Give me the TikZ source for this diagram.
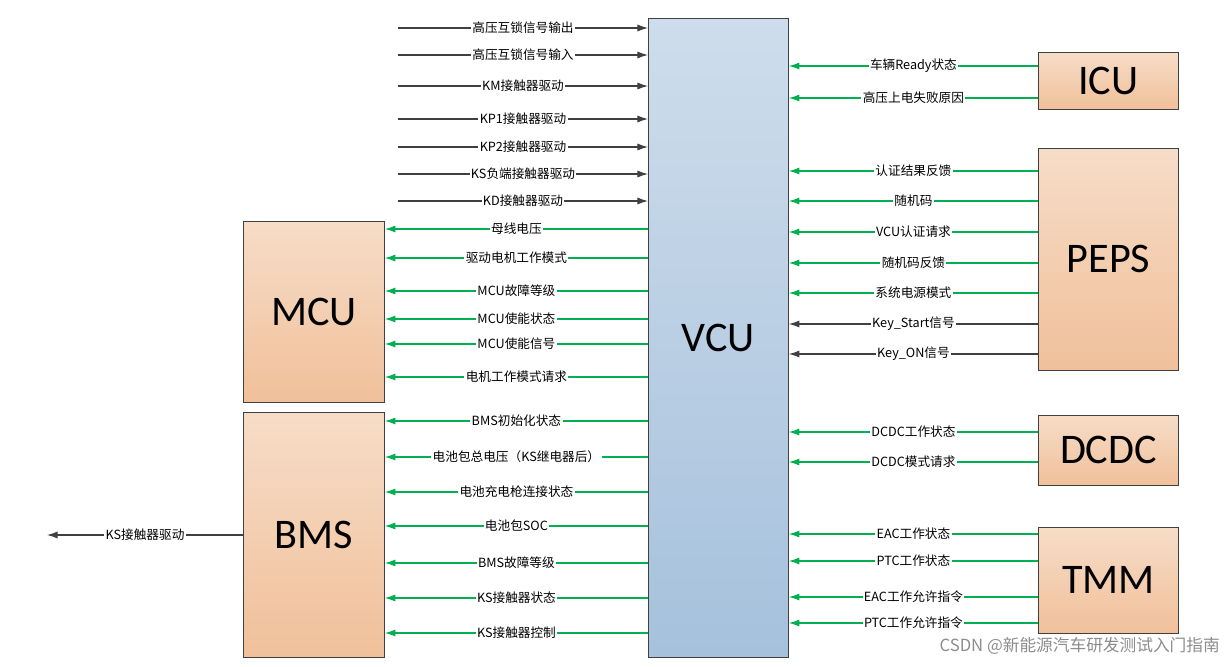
\documentclass[tikz,border=0pt]{standalone}
\usepackage{fontspec}
\setmainfont{Carlito}
\newfontfamily\cjk{Noto Sans CJK SC}
\usetikzlibrary{arrows.meta}
\definecolor{sig}{HTML}{00B050}
\definecolor{hw}{HTML}{404040}
\tikzset{
  unit/.style={draw=black!75, line width=0.5pt, top color=#1!55, bottom color=#1, font=\fontsize{24}{26}\selectfont},
  link/.style={-{Latex[length=6pt,width=4pt]}, line width=0.6pt, sig},
  wire/.style={-{Latex[length=6pt,width=4pt]}, line width=0.6pt, hw},
  lbl/.style={fill=white, inner sep=0.8pt, font=\cjk\fontsize{7.2}{8}\selectfont, text=black}
}
\definecolor{vcuc}{HTML}{A6C1DC}
\definecolor{ecu}{HTML}{F0C09A}
\begin{document}
\begin{tikzpicture}[x=0.02cm, y=-0.02cm]
\useasboundingbox (0,0) rectangle (1229,666);
% control units
\node[unit=vcuc, minimum width=2.8cm, minimum height=12.78cm, anchor=north west] (vcu) at (648,18) {VCU};
\node[unit=ecu, minimum width=2.82cm, minimum height=3.62cm, anchor=north west] (mcu) at (243,221) {MCU};
\node[unit=ecu, minimum width=2.82cm, minimum height=4.9cm, anchor=north west] (bms) at (243,412) {BMS};
\node[unit=ecu, minimum width=2.8cm, minimum height=1.14cm, anchor=north west] (icu) at (1038,52) {ICU};
\node[unit=ecu, minimum width=2.8cm, minimum height=4.44cm, anchor=north west] (peps) at (1038,148) {PEPS};
\node[unit=ecu, minimum width=2.8cm, minimum height=1.4cm, anchor=north west] (dcdc) at (1038,415) {DCDC};
\node[unit=ecu, minimum width=2.8cm, minimum height=2.12cm, anchor=north west] (tmm) at (1038,527) {TMM};
% hard-wired outputs of the VCU
\foreach \y/\t/\d [count=\i] in {28/高压互锁信号输出/o, 55/高压互锁信号输入/i, 86/KM接触器驱动/o,
    119/KP1接触器驱动/o, 147/KP2接触器驱动/o, 174/KS负端接触器驱动/o, 201/KD接触器驱动/o}{
  \coordinate (hv\i) at (398,\y);
  \ifx\d o
    \draw[wire] (vcu.west |- hv\i) -- node[lbl]{\t} (hv\i);
  \else
    \draw[wire] (hv\i) -- node[lbl]{\t} (vcu.west |- hv\i);
  \fi
}
% MCU <-> VCU
\foreach \y/\t/\d [count=\i] in {229/母线电压/r, 258/驱动电机工作模式/r, 291/MCU故障等级/r,
    319/MCU使能状态/r, 344/MCU使能信号/l, 377/电机工作模式请求/l}{
  \coordinate (m\i) at (0,\y);
  \ifx\d r
    \draw[link] (mcu.east |- m\i) -- node[lbl]{\t} (vcu.west |- m\i);
  \else
    \draw[link] (vcu.west |- m\i) -- node[lbl]{\t} (mcu.east |- m\i);
  \fi
}
% BMS <-> VCU
\foreach \y/\t/\d [count=\i] in {421/BMS初始化状态/r, 457/电池包总电压（KS继电器后）/r, 492/电池充电枪连接状态/r,
    526/电池包SOC/r, 563/BMS故障等级/r, 598/KS接触器状态/r, 633/KS接触器控制/l}{
  \coordinate (b\i) at (0,\y);
  \ifx\d r
    \draw[link] (bms.east |- b\i) -- node[lbl]{\t} (vcu.west |- b\i);
  \else
    \draw[link] (vcu.west |- b\i) -- node[lbl]{\t} (bms.east |- b\i);
  \fi
}
\coordinate (ks) at (47,535);
\draw[wire] (bms.west |- ks) -- node[lbl]{KS接触器驱动} (ks);
% VCU <-> right side units
\foreach \y/\t/\d/\s [count=\i] in {66/车辆Ready状态/r/link, 98/高压上电失败原因/r/link,
    171/认证结果反馈/r/link, 201/随机码/r/link, 232/VCU认证请求/r/link, 263/随机码反馈/l/link,
    293/系统电源模式/l/link, 324/Key\_Start信号/l/wire, 354/Key\_ON信号/l/wire,
    432/DCDC工作状态/l/link, 462/DCDC模式请求/r/link,
    534/EAC工作状态/l/link, 561/PTC工作状态/l/link, 597/EAC工作允许指令/r/link, 623/PTC工作允许指令/r/link}{
  \coordinate (r\i) at (1038,\y);
  \ifx\d r
    \draw[\s] (vcu.east |- r\i) -- node[lbl]{\t} (r\i);
  \else
    \draw[\s] (r\i) -- node[lbl]{\t} (vcu.east |- r\i);
  \fi
}
\node[font=\cjk\fontsize{9.5}{10}\selectfont, text=black!45, anchor=east] (mark) at (1226,646) {CSDN @新能源汽车研发测试入门指南};
\end{tikzpicture}
\end{document}
